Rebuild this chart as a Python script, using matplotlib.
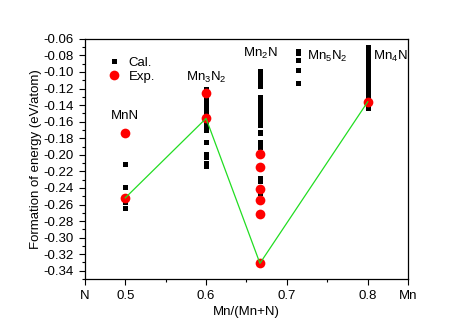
import matplotlib
matplotlib.use('Agg')
from matplotlib import pyplot as plt
from matplotlib.ticker import MultipleLocator, FixedLocator

plt.rcParams['font.family'] = ['Liberation Sans', 'DejaVu Sans']
plt.rcParams['mathtext.fontset'] = 'custom'
plt.rcParams['mathtext.rm'] = 'Liberation Sans'
plt.rcParams['mathtext.it'] = 'Liberation Sans'

# calculated formation energies (eV/atom) for each composition
x_mnn, cal_mnn = 0.5, [-0.211, -0.239, -0.253, -0.257, -0.264]
x_mn3n2 = 0.6
cal_mn3n2 = [-0.120, -0.123, -0.126, -0.129, -0.132, -0.135, -0.138, -0.141,
             -0.144, -0.147, -0.150, -0.153, -0.156, -0.159, -0.162, -0.165,
             -0.168, -0.170, -0.184, -0.199, -0.203, -0.210, -0.214]
x_mn2n = 2 / 3
cal_mn2n = [-0.099, -0.102, -0.105, -0.108, -0.111, -0.114, -0.1165,
            -0.130, -0.133, -0.136, -0.139, -0.142, -0.145, -0.148, -0.151,
            -0.154, -0.157, -0.160, -0.163, -0.1645,
            -0.1725, -0.1735, -0.185, -0.188, -0.191,
            -0.228, -0.232, -0.246]
x_mn5n2 = 5 / 7
cal_mn5n2 = [-0.075, -0.077, -0.086, -0.097, -0.113]
x_mn4n = 0.8
cal_mn4n = [-0.070, -0.073, -0.076, -0.079, -0.082, -0.085, -0.088, -0.091,
            -0.094, -0.097, -0.100, -0.103, -0.106, -0.109, -0.112, -0.115,
            -0.118, -0.121, -0.124, -0.127, -0.130, -0.133, -0.136, -0.139,
            -0.142, -0.144]

# experimental values
exp_mnn = [-0.174, -0.252]
exp_mn3n2 = [-0.125, -0.156]
exp_mn2n = [-0.199, -0.215, -0.241, -0.254, -0.271, -0.331]
exp_mn4n = [-0.136]

# convex hull (lowest experimental points)
hull_x = [0.5, 0.6, 2 / 3, 0.8]
hull_y = [-0.252, -0.156, -0.331, -0.136]

labels = ['MnN', 'Mn$_3$N$_2$', 'Mn$_2$N', 'Mn$_5$N$_2$', 'Mn$_4$N']

fig = plt.figure(figsize=(4.74, 3.35), dpi=100)
ax = fig.add_axes([0.179, 0.167, 0.682, 0.717])

cal = [(x_mnn, cal_mnn), (x_mn3n2, cal_mn3n2), (x_mn2n, cal_mn2n),
       (x_mn5n2, cal_mn5n2), (x_mn4n, cal_mn4n)]
exp = [(x_mnn, exp_mnn), (x_mn3n2, exp_mn3n2), (x_mn2n, exp_mn2n),
       (x_mn4n, exp_mn4n)]

for i, (xv, ys) in enumerate(cal):
    ax.plot([xv] * len(ys), ys, 's', color='black', ms=3.6, mew=0,
            label='Cal.' if i == 0 else None, zorder=2)
for i, (xv, ys) in enumerate(exp):
    ax.plot([xv] * len(ys), ys, 'o', color='#ff0000', ms=7, mew=0,
            label='Exp.' if i == 0 else None, zorder=3)
ax.plot(hull_x, hull_y, '-', color='#22dd22', lw=0.9, zorder=4)

fs = 9.5
ax.text(0.5, -0.153, labels[0], ha='center', va='center', fontsize=fs)
ax.text(0.6, -0.106, labels[1], ha='center', va='center', fontsize=fs)
ax.text(2 / 3, -0.078, labels[2], ha='center', va='center', fontsize=fs)
ax.text(0.725, -0.081, labels[3], ha='left', va='center', fontsize=fs)
ax.text(0.806, -0.081, labels[4], ha='left', va='center', fontsize=fs)

ax.set_xlim(0.45, 0.85)
ax.set_ylim(-0.35, -0.06)
ax.xaxis.set_major_locator(FixedLocator([0.45, 0.5, 0.6, 0.7, 0.8, 0.85]))
ax.set_xticklabels(['N', '0.5', '0.6', '0.7', '0.8', 'Mn'])
ax.xaxis.set_minor_locator(FixedLocator([0.55, 0.65, 0.75]))
ax.yaxis.set_major_locator(MultipleLocator(0.02))
ax.yaxis.set_minor_locator(MultipleLocator(0.01))
ax.yaxis.set_major_formatter(plt.FormatStrFormatter('%.2f'))
ax.tick_params(which='both', direction='out', labelsize=fs, top=False, right=False)
ax.tick_params(which='major', length=4.5, width=0.8)
ax.tick_params(which='minor', length=2.5, width=0.8)
for s in ax.spines.values():
    s.set_linewidth(0.9)

ax.set_xlabel('Mn/(Mn+N)', fontsize=fs, labelpad=3)
ax.set_ylabel('Formation of energy (eV/atom)', fontsize=fs, labelpad=1)

ax.legend(loc='upper left', bbox_to_anchor=(0.07, 0.925), frameon=False,
          fontsize=fs, handlelength=1.0, handletextpad=0.6,
          borderpad=0, borderaxespad=0, labelspacing=0.1, numpoints=1)

fig.savefig('out.png', dpi=100)
